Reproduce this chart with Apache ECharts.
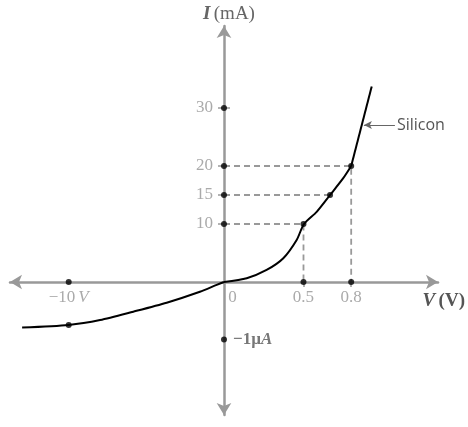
<!DOCTYPE html>
<html><head><meta charset="utf-8">
<script src="https://cdn.jsdelivr.net/npm/echarts@6/dist/echarts.min.js"></script>
<style>html,body{margin:0;padding:0;background:#fff}#c{width:468px;height:427px}</style>
</head><body><div id="c"></div>
<script>
// Forward-bias branch (V in volts, I in mA)
var fwdV = [0, 0.143, 0.268, 0.373, 0.457, 0.503, 0.583, 0.667, 0.75, 0.8];
var fwdI = [0, 0.64, 2.07, 4.09, 7.24, 10, 12.1, 15, 17.9, 20];
// Steep part above the knee
var steepV = [0.8, 0.929];
var steepI = [20, 33.7];
// Reverse-bias branch (V in volts, I in µA)
var revV = [0, -0.47, -1.55, -3.69, -5.84, -7.98, -10, -13.0];
var revI = [0, -0.05, -0.17, -0.36, -0.515, -0.66, -0.745, -0.79];
// Marked points
var markV = [0.5, 0.667, 0.8];
var markI = [10, 15, 20];
// Tick labels
var yTicks = [10, 15, 20, 30];
var xTicks = [0, 0.5, 0.8];
var xNegTicks = [-10];
var yNegTicks = [-1];
var calloutV = [1.075, 0.88];
var calloutI = 27.07;

var serif = 'Liberation Serif';
var gray = '#999';
var lblGray = '#aaa';

function pairs(a, b) { return a.map(function (v, i) { return [v, b[i]]; }); }

var dashData = [];
markV.forEach(function (v, i) {
  var pts = [[0, markI[i]], [v, markI[i]]];
  if (xTicks.indexOf(v) >= 0) pts.push([v, 0]);
  dashData.push(pts);
});

var dotsA = [];
yTicks.forEach(function (t) { dotsA.push([0, t]); });
xTicks.forEach(function (t) { if (t !== 0) dotsA.push([t, 0]); });
markV.forEach(function (v, i) { dotsA.push([v, markI[i]]); });
var dotsB = [];
xNegTicks.forEach(function (t) { dotsB.push([t, 0]); dotsB.push([t, revI[revV.indexOf(t)]]); });
yNegTicks.forEach(function (t) { dotsB.push([0, t]); });

var axisLineStyle = { color: gray, width: 2.5 };
var chart = echarts.init(document.getElementById('c'));
var series = [];
dashData.forEach(function (d) {
  series.push({ type: 'line', xAxisIndex: 0, yAxisIndex: 0, data: d, symbol: 'none', clip: false,
    lineStyle: { color: gray, width: 1.8, type: [6, 4] }, z: 1, silent: true });
});
series.push({ type: 'line', xAxisIndex: 0, yAxisIndex: 0, data: pairs(fwdV, fwdI), symbol: 'none', smooth: 0.25, clip: false,
  lineStyle: { color: '#000', width: 2 }, z: 3 });
series.push({ type: 'line', xAxisIndex: 0, yAxisIndex: 0, data: pairs(steepV, steepI), symbol: 'none', clip: false,
  lineStyle: { color: '#000', width: 2 }, z: 3,
  markLine: { silent: true, symbol: ['none', 'arrow'], symbolSize: [6, 8],
    lineStyle: { color: '#666', width: 1, type: 'solid' },
    label: { show: true, position: 'start', formatter: 'Silicon', color: '#555', fontSize: 16, fontFamily: 'Open Sans', distance: 2 },
    data: [[{ coord: [calloutV[0], calloutI] }, { coord: [calloutV[1], calloutI] }]] } });
series.push({ type: 'line', xAxisIndex: 1, yAxisIndex: 2, data: pairs(revV, revI), symbol: 'none', smooth: 0.25, clip: false,
  lineStyle: { color: '#000', width: 2 }, z: 3 });
series.push({ type: 'scatter', xAxisIndex: 0, yAxisIndex: 0, data: dotsA, symbolSize: 6, itemStyle: { color: '#000' }, z: 5, clip: false });
series.push({ type: 'scatter', xAxisIndex: 1, yAxisIndex: 2, data: dotsB, symbolSize: 6, itemStyle: { color: '#000' }, z: 5, clip: false });

chart.setOption({
  animation: false,
  grid: [
    { left: 224, top: 26, width: 214, height: 256 },
    { left: 10, top: 282, width: 214, height: 133 }
  ],
  xAxis: [
    { type: 'value', gridIndex: 0, min: 0, max: 1.346, position: 'bottom',
      axisLine: { onZero: false, symbol: ['none', 'arrow'], symbolSize: [11, 12], lineStyle: axisLineStyle },
      splitLine: { show: false },
      axisTick: { show: true, customValues: [0.5, 0.8], length: 5, lineStyle: { color: gray, width: 1.5 } },
      axisLabel: { customValues: xTicks, margin: 7, color: lblGray, fontSize: 17, fontFamily: serif,
        formatter: function (v) { return v === 0 ? '{z|0}' : String(v); },
        rich: { z: { padding: [0, 0, 0, 17], color: lblGray, fontSize: 17, fontFamily: serif } } },
      name: '{i|V} {b|(V)}', nameLocation: 'end', nameGap: 27,
      nameTextStyle: { align: 'right', verticalAlign: 'top', padding: [10, 0, 0, 0],
        rich: { i: { fontFamily: serif, fontStyle: 'italic', fontWeight: 'bold', fontSize: 19, color: '#555' },
                b: { fontFamily: serif, fontWeight: 'bold', fontSize: 19, color: '#555' } } } },
    { type: 'value', gridIndex: 1, min: -13.78, max: 0, position: 'top',
      axisLine: { onZero: false, symbol: ['arrow', 'none'], symbolSize: [11, 12], lineStyle: axisLineStyle },
      splitLine: { show: false }, axisTick: { show: false },
      axisLabel: { customValues: xNegTicks, inside: true, margin: 7, color: lblGray, fontSize: 17, fontFamily: serif,
        formatter: function (v) { return '−' + Math.abs(v) + '{i|V}'; },
        rich: { i: { fontStyle: 'italic', color: lblGray, fontSize: 17, fontFamily: serif, padding: [0, 0, 0, 3] } } } }
  ],
  yAxis: [
    { type: 'value', gridIndex: 0, min: 0, max: 44.14, position: 'left',
      axisLine: { onZero: false, symbol: ['none', 'arrow'], symbolSize: [11, 12], lineStyle: axisLineStyle },
      splitLine: { show: false },
      axisTick: { show: true, customValues: yTicks, length: 6, lineStyle: { color: gray, width: 1.5 } },
      axisLabel: { customValues: yTicks, margin: 11, color: lblGray, fontSize: 17, fontFamily: serif },
      name: '{i|I} {b|(mA)}', nameLocation: 'end', nameGap: 2,
      nameTextStyle: { padding: [0, 0, 0, 10],
        rich: { i: { fontFamily: serif, fontStyle: 'italic', fontWeight: 'bold', fontSize: 19, color: '#666' },
                b: { fontFamily: serif, fontSize: 19, color: '#666' } } } },
    { type: 'value', gridIndex: 0, min: 0, max: 44.14, position: 'left', offset: 0,
      axisLine: { show: false }, splitLine: { show: false }, axisLabel: { show: false },
      axisTick: { show: true, inside: true, customValues: yTicks, length: 6, lineStyle: { color: gray, width: 1.5 } } },
    { type: 'value', gridIndex: 1, min: -2.309, max: 0, position: 'right',
      axisLine: { onZero: false, symbol: ['arrow', 'none'], symbolSize: [11, 12], lineStyle: axisLineStyle },
      splitLine: { show: false }, axisTick: { show: false },
      axisLabel: { customValues: yNegTicks, margin: 9,
        formatter: function (v) { return '{b|−' + Math.abs(v) + 'µ}{i|A}'; },
        rich: { b: { fontFamily: serif, fontWeight: 'bold', fontSize: 17, color: '#777' },
                i: { fontFamily: serif, fontWeight: 'bold', fontStyle: 'italic', fontSize: 17, color: '#777' } } } }
  ],
  series: series
});
</script></body></html>
